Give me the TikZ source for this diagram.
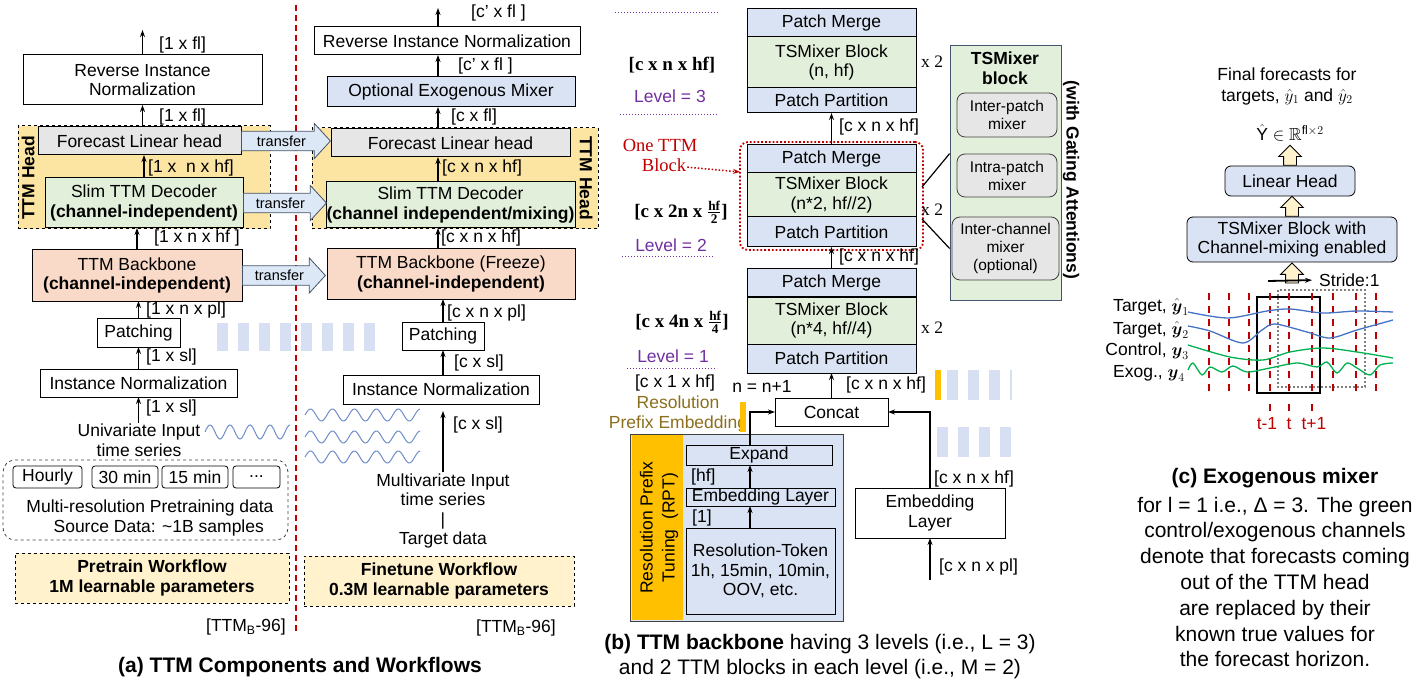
\documentclass[tikz,border=0pt]{standalone}
\usepackage{amsmath}
\usepackage{amssymb}
\usepackage{fontspec}
\setmainfont{Liberation Sans}
\newfontfamily\serf{Liberation Serif}
\usepackage{tikz}
\usetikzlibrary{arrows.meta,positioning,shapes.arrows,fit}
\definecolor{headc}{RGB}{252,228,163}
\definecolor{flhc}{RGB}{231,230,230}
\definecolor{grnc}{RGB}{226,239,218}
\definecolor{bbc}{RGB}{249,218,200}
\definecolor{bluc}{RGB}{218,227,243}
\definecolor{xferc}{RGB}{220,232,246}
\definecolor{xferd}{RGB}{68,84,106}
\definecolor{wfc}{RGB}{255,242,204}
\definecolor{stripc}{RGB}{214,224,242}
\definecolor{wavec}{RGB}{110,140,200}
\definecolor{redc}{RGB}{192,0,0}
\definecolor{purp}{RGB}{112,48,160}
\definecolor{olv}{RGB}{140,110,30}
\definecolor{orgc}{RGB}{255,192,0}
\definecolor{rptd}{RGB}{64,64,64}
\definecolor{mixc}{RGB}{231,230,230}
\definecolor{fatc}{RGB}{255,242,204}
\definecolor{bluec}{RGB}{68,114,196}
\definecolor{greenc}{RGB}{0,176,80}
\newcommand\ttmfont{\fontsize{17.5}{19.5}\selectfont}

\begin{document}
\begin{tikzpicture}[x=1pt,y=-1pt,>={Stealth[length=7pt,width=5pt]},
  every node/.style={font=\ttmfont,inner sep=1pt},
  blk/.style={draw,line width=1pt,align=center,inner sep=0pt,outer sep=0pt},
  gry/.style={blk,fill=flhc},
  grn/.style={blk,fill=grnc},
  pch/.style={blk,fill=bbc},
  blu/.style={blk,fill=bluc,minimum width=169pt},
  hd/.style={draw,dashed,line width=1pt,fill=headc},
  wf/.style={draw,dashed,line width=1pt,fill=wfc,align=center,font=\bfseries\ttmfont,minimum height=50pt},
  xfer/.style={shape=single arrow,draw=xferd,fill=xferc,line width=0.8pt,single arrow head extend=8pt,single arrow tip angle=95,inner xsep=2pt,inner ysep=4pt,font=\fontsize{14.5}{16}\selectfont},
  arr/.style={->,line width=1.2pt},
  lab/.style={anchor=west},
  sig/.style={wavec,line width=1pt},
  rb/.style={draw,rounded corners=3pt,line width=0.8pt,minimum height=22pt,inner sep=0pt},
  rbl/.style={draw,fill=bluc,rounded corners=6pt,line width=0.8pt,align=center,inner sep=0pt},
  strp/.style={stripc,line width=28pt,dash pattern=on 11pt off 10pt},
  dimlab/.style={font=\serf\bfseries\fontsize{19}{21}\selectfont},
  lvl/.style={text=purp},
  pdot/.style={purp,dotted,line width=1pt},
  xtwo/.style={anchor=west,font=\serf\ttmfont},
  mix/.style={draw=rptd,fill=mixc,rounded corners=8pt,line width=0.8pt,align=center,inner sep=0pt,font=\fontsize{15.5}{18}\selectfont},
  fat/.style={shape=single arrow,rotate=90,draw,fill=fatc,line width=0.8pt,minimum height=20pt,single arrow head extend=5pt,inner xsep=0pt,inner ysep=6pt},
  tdsh/.style={redc,line width=2.2pt,dash pattern=on 7pt off 6pt}]
\useasboundingbox (0,0) rectangle (1417,687);

\draw[strp] (217,337) -- (376,337);
\draw[redc,line width=1.2pt,dash pattern=on 6pt off 4pt] (296,5) -- (296,633);

\coordinate (o1) at (142.5,30);
\node[blk,minimum width=239pt,minimum height=50pt] (rin1) at (142.5,80) {Reverse Instance\\Normalization};
\node[hd,minimum width=252pt,minimum height=103pt] (hd1) at (144,177.5) {};
\node[gry,minimum width=203pt,minimum height=28pt] (flh1) at (139.5,141) {Forecast Linear head};
\node[grn,minimum width=198pt,minimum height=50pt] (dec1) at (144,203) {Slim TTM Decoder\\\textbf{(channel-independent)}};
\node[rotate=90,font=\bfseries\ttmfont] (hl1) at (28,178) {TTM Head};
\node[pch,minimum width=210pt,minimum height=51pt] (bb1) at (137,275.5) {TTM Backbone\\\textbf{(channel-independent)}};
\node[blk,minimum width=83pt,minimum height=29pt] (pat1) at (138.5,332.5) {Patching};
\node[blk,minimum width=197pt,minimum height=28pt] (in1) at (138.5,383) {Instance Normalization};
\node[align=center] (ui1) at (139,440) {Univariate Input\\time series};
\node[lab] (l1) at (158,45) {[1 x fl]};
\node[lab] (l2) at (158,117) {[1 x fl]};
\node[lab] (l3) at (147,168) {[1 x \ n x hf]};
\node[lab] (l4) at (153,238) {[1 x n x hf ]};
\node[lab] (l5) at (145,310) {[1 x n x pl]};
\node[lab] (l6) at (145,357) {[1 x sl]};
\node[lab] (l7) at (145,408) {[1 x sl]};
\draw[arr] (rin1) -- (o1);
\draw[arr] (flh1.north -| rin1) -- (rin1.south);
\draw[arr] (dec1.north) -- (dec1.north |- flh1.south);
\draw[arr] (bb1.north) -- (bb1.north |- dec1.south);
\draw[arr] (pat1) -- (pat1 |- bb1.south);
\draw[arr] (in1) -- (pat1);
\draw[arr] (ui1.north -| in1) -- (in1.south);
\draw[sig] plot[domain=205:290,samples=80] (\x,{432-7*sin(18*(\x-205))});
\node[draw=rptd,dashed,rounded corners=12pt,line width=0.8pt,minimum width=285pt,minimum height=80pt] (src) at (145.5,500) {};
\node[rb,minimum width=69pt] (r1) at (47.5,477) {Hourly};
\node[rb,minimum width=66pt] (r2) at (125,477) {30 min};
\node[rb,minimum width=66pt] (r3) at (195,477) {15 min};
\node[rb,minimum width=47pt] (r4) at (256.5,477) {...};
\node[align=center,font=\fontsize{17.5}{20}\selectfont] (srct) at (150,518) {Multi-resolution Pretraining data\\\hspace*{1em}Source Data: \textasciitilde1B samples};
\node[wf,minimum width=274pt] (pw) at (152,578) {Pretrain Workflow\\1M learnable parameters};
\node[anchor=east] (ref1) at (287,627) {[TTM\textsubscript{B}-96]};
\node[font=\bfseries\fontsize{21}{25}\selectfont] (capa) at (300,667) {(a) TTM Components and Workflows};

\coordinate (o2) at (438,8);
\node[blk,minimum width=266pt,minimum height=28pt] (rin2) at (447,41) {Reverse Instance Normalization};
\node[blk,fill=bluc,minimum width=248pt,minimum height=30pt] (oem) at (451,92) {Optional Exogenous Mixer};
\node[hd,minimum width=286pt,minimum height=101pt] (hd2) at (455,178.5) {};
\node[gry,minimum width=239pt,minimum height=28pt] (flh2) at (450.5,143) {Forecast Linear head};
\node[grn,minimum width=249pt,minimum height=46pt] (dec2) at (450.5,205) {Slim TTM Decoder\\\textbf{(channel independent/mixing)}};
\node[rotate=-90,font=\bfseries\ttmfont] (hl2) at (586,178) {TTM Head};
\node[pch,minimum width=248pt,minimum height=50pt] (bb2) at (451,274) {TTM Backbone (Freeze)\\\textbf{(channel-independent)}};
\node[blk,minimum width=82pt,minimum height=28pt] (pat2) at (443,336) {Patching};
\node[blk,minimum width=196pt,minimum height=29pt] (in2) at (441,389.5) {Instance Normalization};
\node[align=center] (mi) at (443,511) {Multivariate Input\\time series\\|\\Target data};
\node[lab] (l8) at (470,13) {[c’ x fl ]};
\node[lab] (l9) at (457,66) {[c’ x fl ]};
\node[lab] (l10) at (450,117) {[c x fl]};
\node[lab] (l11) at (441,168) {[c x n x hf]};
\node[lab] (l12) at (440,238) {[c x n x hf]};
\node[lab] (l13) at (446,313) {[c x n x pl]};
\node[lab] (l14) at (453,363) {[c x sl]};
\node[lab] (l15) at (452,425) {[c x sl]};
\draw[arr] (rin2.north -| o2) -- (o2);
\draw[arr] (oem.north -| o2) -- (rin2.south -| o2);
\draw[arr] (flh2.north -| o2) -- (oem.south -| o2);
\draw[arr] (dec2.north -| o2) -- (flh2.south -| o2);
\draw[arr] (bb2.north -| o2) -- (dec2.south -| o2);
\draw[arr] (pat2) -- (pat2 |- bb2.south);
\draw[arr] (in2.north -| pat2) -- (pat2.south);
\draw[arr,shorten >=7pt] (mi) -- (mi |- in2.south);
\foreach \y in {415,437,457}
  \draw[sig] plot[domain=305:420,samples=90] (\x,{\y-6*sin(16.4*(\x-305))});
\node[wf,minimum width=270pt] (fw) at (439,581) {Finetune Workflow\\0.3M learnable parameters};
\node[anchor=east] (ref2) at (557,628) {[TTM\textsubscript{B}-96]};
\node[xfer,anchor=tail,minimum height=89pt] (tr1) at (flh1.east) {transfer};
\node[xfer,anchor=tail,minimum height=83pt] (tr2) at (dec1.east) {transfer};
\node[xfer,anchor=tail,minimum height=83pt] (tr3) at (bb1.east) {transfer};

\draw[pdot] (615,13) -- (718,13);
\draw[pdot] (620,115) -- (717,115);
\draw[pdot] (622,257) -- (713,257);
\draw[pdot] (627,368) -- (717,368);
\node[dimlab] (d3) at (672,65) {[c x n x hf]};
\node[lvl] (lv3) at (670,96) {Level = 3};
\node[dimlab] (d2) at (681,212) {[c x 2n x $\frac{\text{hf}}{\text{2}}$]};
\node[lvl] (lv2) at (671,245) {Level = 2};
\node[dimlab] (d1) at (682,322) {[c x 4n x $\frac{\text{hf}}{\text{4}}$]};
\node[lvl] (lv1) at (673,356) {Level = 1};
\node[text=redc,font=\serf\fontsize{18.5}{20}\selectfont] (ot1) at (660,145) {One TTM};
\node[text=redc,font=\serf\fontsize{18.5}{20}\selectfont] (ot2) at (664,165) {Block};
\node (c1) at (675,383) {[c x 1 x hf]};
\node (nn) at (762,386) {n = n+1};
\node[align=center,text=olv] (rpe) at (678,414) {Resolution\\Prefix Embedding};
\fill[orgc] (740,402) rectangle (746,432);

\node[blu,minimum height=28pt] (pm3) at (831.5,23) {Patch Merge};
\node[grn,minimum width=169pt,minimum height=51pt,below=0pt of pm3] (mx3) {TSMixer Block\\(n, hf)};
\node[blu,minimum height=25pt,below=0pt of mx3] (pp3) {Patch Partition};
\node[blu,minimum height=28pt] (pm2) at (831.5,159) {Patch Merge};
\node[grn,minimum width=169pt,minimum height=44pt,below=0pt of pm2] (mx2) {TSMixer Block\\(n*2, hf//2)};
\node[blu,minimum height=30pt,below=0pt of mx2] (pp2) {Patch Partition};
\node[blu,minimum height=28pt] (pm1) at (831.5,283) {Patch Merge};
\node[grn,minimum width=169pt,minimum height=47pt,below=0pt of pm1] (mx1) {TSMixer Block\\(n*4, hf//4)};
\node[blu,minimum height=29pt,below=0pt of mx1] (pp1) {Patch Partition};
\node[draw=redc,dotted,line width=1.8pt,rounded corners=8pt,fit=(pm2)(pp2),inner xsep=7pt,inner ysep=3pt] (otb) {};
\coordinate (otp) at (740,172);
\draw[redc,dotted,line width=1.5pt,->] (ot2) -- (otp);
\node[xtwo] (x3) at (920,62) {x 2};
\node[xtwo] (x2) at (920,210) {x 2};
\node[xtwo] (x1) at (920,328) {x 2};
\node[blk,minimum width=113pt,minimum height=28pt] (cc) at (831.5,412) {Concat};
\node[lab] (l16) at (838,127) {[c x n x hf]};
\node[lab] (l17) at (838,257) {[c x n x hf]};
\node[lab] (l18) at (845,385) {[c x n x hf]};
\draw[arr] (pm2) -- (pp3);
\draw[arr] (pm1) -- (pp2);
\draw[arr] (cc) -- (pp1);

\node[draw=rptd,fill=bluc,line width=1pt,minimum width=213pt,minimum height=187pt] (rpt) at (736.5,527.5) {};
\node[fill=orgc,minimum width=51pt,minimum height=185pt,inner sep=0pt] (rpto) at (657.5,527.5) {};
\node[rotate=90,align=center,font=\fontsize{17.5}{22}\selectfont] (rptl) at (659,527.5) {Resolution Prefix\\Tuning \ (RPT)};
\node[blk,fill=bluc,minimum width=146pt,minimum height=20pt] (ex) at (759,455) {Expand};
\node[blk,fill=bluc,minimum width=149pt,minimum height=18pt] (el) at (760.5,497) {Embedding Layer};
\node[blk,fill=bluc,minimum width=149pt,minimum height=86pt] (rt) at (760.5,571) {Resolution-Token\\1h, 15min, 10min,\\OOV, etc.};
\node[lab] (l19) at (690,477) {[hf]};
\node[lab] (l20) at (691,518) {[1]};
\coordinate (ax) at (750,0);
\draw[arr] (rt.north -| ax) -- (el.south -| ax);
\draw[arr] (el.north -| ax) -- (ex.south -| ax);
\draw[arr] (ex.north -| ax) |- (cc.west);
\node[blk,minimum width=150pt,minimum height=50pt] (emb) at (930,513) {Embedding\\Layer};
\coordinate (ein) at (930,580);
\draw[arr] (ein) -- (emb);
\draw[arr] (emb.north) |- (cc.east);
\node[lab] (l21) at (933,479) {[c x n x hf]};
\node[lab] (l22) at (938,567) {[c x n x pl]};
\fill[orgc] (935,370) rectangle (941,400);
\draw[strp,line width=30pt] (947,385) -- (1012,385);
\draw[strp,line width=30pt] (937,442) -- (1012,442);
\node[align=center,font=\fontsize{21}{25}\selectfont] (capb) at (820,657) {\textbf{(b) TTM backbone} having 3 levels (i.e., L = 3)\\and 2 TTM blocks in each level (i.e., M = 2)};

\node[draw=xferd,fill=grnc,line width=0.8pt,minimum width=111pt,minimum height=255pt] (tsb) at (1005.5,172.5) {};
\node[align=center,font=\bfseries\fontsize{17.5}{20}\selectfont] (tsbt) at (1005,68) {TSMixer\\block};
\node[mix,minimum width=100pt,minimum height=44pt] (ip) at (1007,115) {Inter-patch\\mixer};
\node[mix,minimum width=100pt,minimum height=43pt] (ia) at (1007,175.5) {Intra-patch\\mixer};
\node[mix,minimum width=107pt,minimum height=63pt] (ic) at (1005.5,248.5) {Inter-channel\\mixer\\(optional)};
\node[rotate=-90,font=\bfseries\ttmfont] (ga) at (1071,180) {(with Gating Attentions)};
\draw[line width=1.2pt] ([xshift=6pt,yshift=8pt]mx2.east) -- (tsb.west |- ia.north);
\draw[line width=1.2pt] ([xshift=6pt,yshift=-24pt]mx2.east) -- (tsb.west |- ic);

\node[align=center,font=\fontsize{17.5}{21}\selectfont] (ff) at (1287,86) {Final forecasts for\\targets, $\hat{y}_1$ and $\hat{y}_2$};
\node[font=\serf\ttmfont] (yh) at (1290,133) {$\hat{\mathrm{Y}}\in\mathbb{R}^{\mathrm{fl}\times 2}$};
\node[rbl,minimum width=130pt,minimum height=30pt] (lh) at (1290,181) {Linear Head};
\node[rbl,minimum width=210pt,minimum height=45pt] (tm) at (1292,239.5) {TSMixer Block with\\Channel-mixing enabled};
\node[fat,anchor=tail] (fa1) at (lh.north) {};
\node[fat,anchor=tail] (fa2) at (tm.north) {};
\node[fat,anchor=tip] (fa3) at (tm.south) {};
\coordinate (sc) at (1268,281);
\node[anchor=west] (st) at (1318,280) {Stride:1};
\draw[->,line width=1.8pt,shorten >=6pt] (sc) -- (st.west);
\draw[line width=1.8pt] (1257,297) rectangle (1320,393);
\draw[gray,dotted,line width=2pt] (1278,290) rectangle (1365,387);
\foreach \x in {1209,1229,1249,1270,1289,1312,1333,1356,1376}
  \draw[tdsh] (\x,293) -- (\x,393);
\foreach \x in {1270,1289,1312}
  \draw[tdsh] (\x,404) -- (\x,412);
\draw[bluec,line width=1.3pt] plot[smooth] coordinates {(1188,312) (1228,318) (1267,311) (1290,309) (1323,313) (1357,311) (1393,312)};
\draw[bluec,line width=1.3pt] plot[smooth] coordinates {(1188,326) (1210,331) (1243,343) (1262,330) (1275,324) (1307,332) (1330,338) (1357,330) (1393,320)};
\draw[greenc,line width=1.3pt] plot[smooth] coordinates {(1188,345) (1230,357) (1263,360) (1290,352) (1323,348) (1357,352) (1393,358)};
\draw[greenc,line width=1.3pt] plot[smooth] coordinates {(1188,370) (1193,363) (1202,375) (1210,367) (1222,372) (1233,366) (1247,372) (1270,368) (1297,363) (1317,367) (1327,362) (1337,373) (1347,363) (1357,368) (1370,375) (1380,365) (1393,363)};
\node[anchor=east] (ty1) at (1190,307) {Target, $\hat{\boldsymbol{y}}_1$};
\node[anchor=east] (ty2) at (1190,330) {Target, $\hat{\boldsymbol{y}}_2$};
\node[anchor=east] (cy3) at (1190,351) {Control, $\boldsymbol{y}_3$};
\node[anchor=east] (ey4) at (1186,373) {Exog., $\boldsymbol{y}_4$};
\node[text=redc] (tm1) at (1267,424) {t-1};
\node[text=redc] (tt) at (1289,424) {t};
\node[text=redc] (tp1) at (1314,424) {t+1};
\node[font=\bfseries\fontsize{21}{25}\selectfont] (capc) at (1275,478) {(c) Exogenous mixer};
\node[align=center,font=\fontsize{21}{25.8}\selectfont] (capd) at (1275,582) {for l = 1 i.e., Δ = 3. The green\\control/exogenous channels\\denote that forecasts coming\\out of the TTM head\\are replaced by their\\known true values for\\the forecast horizon.};
\end{tikzpicture}
\end{document}
